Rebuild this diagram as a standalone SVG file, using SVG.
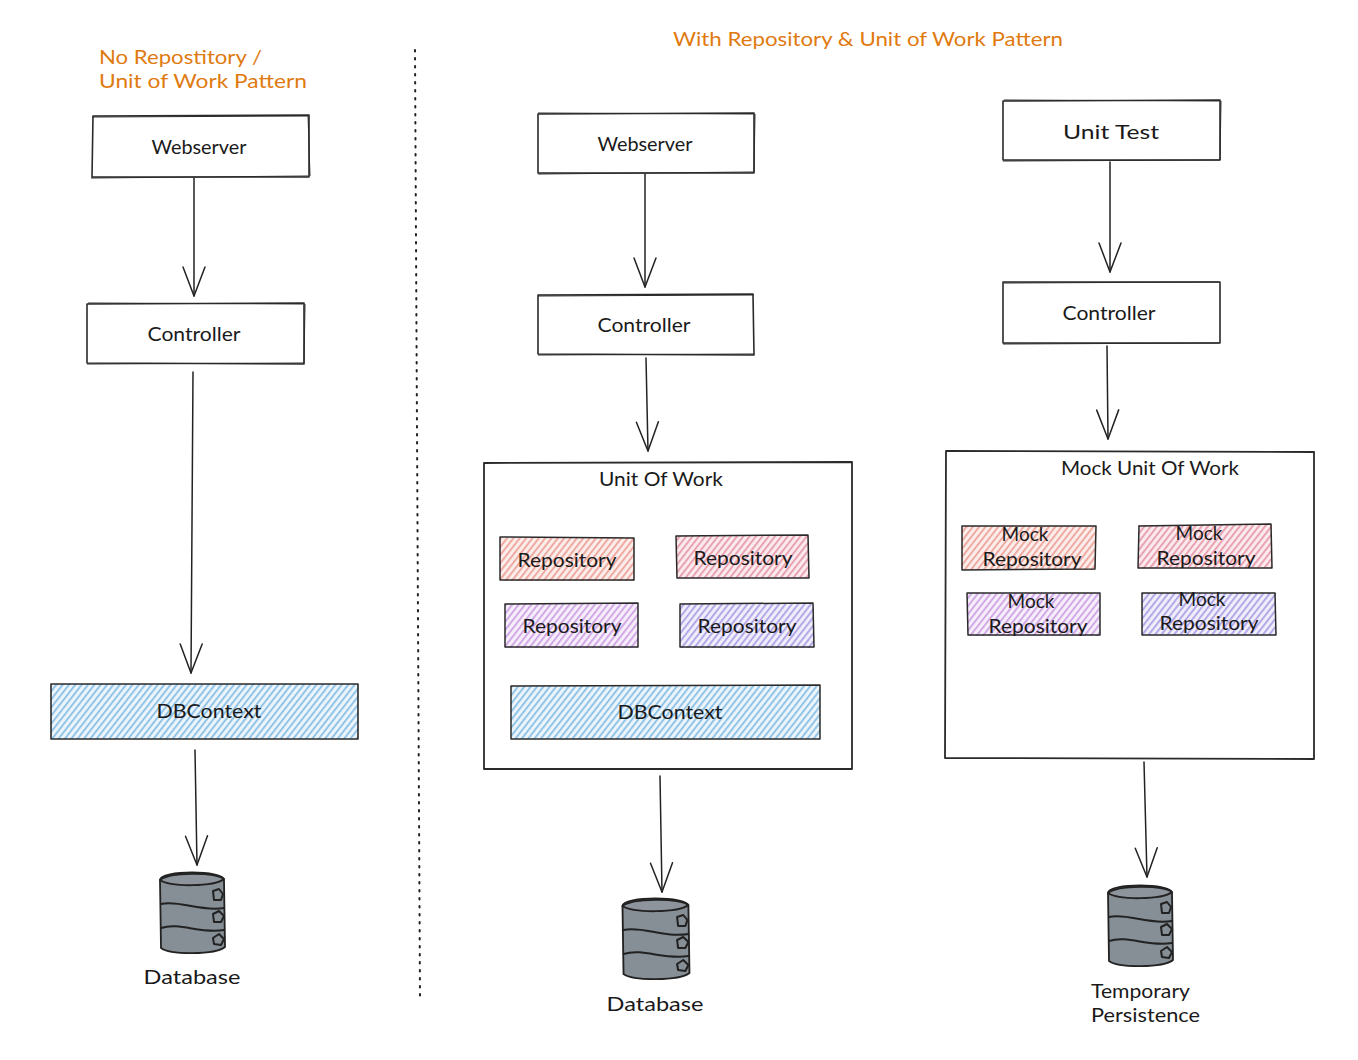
<svg xmlns="http://www.w3.org/2000/svg" xmlns:xlink="http://www.w3.org/1999/xlink" width="1358" height="1060" viewBox="0 0 1358 1060">
<style>
text{font-family:"Lato","Open Sans","Liberation Sans",sans-serif;font-size:19px;fill:#1a1a1a;text-anchor:middle}
text.o{fill:#e07a10;text-anchor:start}
text.s{text-anchor:start}
.b{fill:#fff;stroke:#2a2a2a;stroke-width:1.6;stroke-linejoin:round}
.e{fill:none;stroke:#2a2a2a;stroke-width:1;stroke-linejoin:round}
.c{fill:none;stroke:#222;stroke-width:1.5;stroke-linecap:round;marker-end:url(#h)}
.d{fill:none;stroke:#222;stroke-width:2;stroke-dasharray:1.5 6.5;stroke-linecap:round}
.red{fill:url(#pr)}.pink{fill:url(#pp)}.pur{fill:url(#pu)}.vio{fill:url(#pv)}.blu{fill:url(#pb)}
.k{stroke:#222;stroke-width:2;stroke-linejoin:round;stroke-linecap:round}
</style>
<defs>
<marker id="h" markerUnits="userSpaceOnUse" markerWidth="60" markerHeight="40" refX="30" refY="20" orient="auto" overflow="visible">
<path d="M1,9 L30,20 L1,31" fill="none" stroke="#222" stroke-width="1.5" stroke-linecap="round" stroke-linejoin="round"/>
</marker>
<pattern id="pr" width="5" height="5" patternUnits="userSpaceOnUse" patternTransform="rotate(-52)"><rect width="5" height="5" fill="#fbeeea"/><rect width="5" height="1.8" fill="#eea39c"/></pattern>
<pattern id="pp" width="5" height="5" patternUnits="userSpaceOnUse" patternTransform="rotate(-52)"><rect width="5" height="5" fill="#fbeaee"/><rect width="5" height="1.8" fill="#e79cac"/></pattern>
<pattern id="pu" width="5" height="5" patternUnits="userSpaceOnUse" patternTransform="rotate(-52)"><rect width="5" height="5" fill="#f6eefb"/><rect width="5" height="1.8" fill="#cfa3e4"/></pattern>
<pattern id="pv" width="5" height="5" patternUnits="userSpaceOnUse" patternTransform="rotate(-52)"><rect width="5" height="5" fill="#f0eefb"/><rect width="5" height="1.8" fill="#afa2e6"/></pattern>
<pattern id="pb" width="5" height="5" patternUnits="userSpaceOnUse" patternTransform="rotate(-52)"><rect width="5" height="5" fill="#ecf5fb"/><rect width="5" height="1.8" fill="#8bc0e6"/></pattern>
<g id="cyl">
<path d="M0,8 C0,-2 64,-2 64,8 L65,75 C55,83 10,83 1,76 Z" fill="#868e96" stroke="#222" stroke-width="1.8" stroke-linejoin="round"/>
<path class="k" fill="#8d949b" d="M0,8 C10,15 54,15 64,7 C54,0 10,0 0,8 Z"/>
<path class="k" fill="none" d="M1,32 C20,28 40,40 64,36 M1,56 C20,50 40,62 64,58"/>
<path class="k" fill="#868e96" stroke-width="1.5" d="M53,19 L59,17 L63,22 L61,28 L54,28 Z M53,42 L59,39 L64,44 L61,50 L54,50 Z M53,66 L59,62 L64,67 L61,73 L54,72 Z"/>
</g>
</defs>
<rect width="1358" height="1060" fill="#fff"/>

<g id="connectors">
<path class="c" d="M194,178 L194,296"/>
<path class="c" d="M193,372 L191,673"/>
<path class="c" d="M195,750 L197,865"/>
<path class="c" d="M645,174 L645,287"/>
<path class="c" d="M646,358 L648,451"/>
<path class="c" d="M660,776 L662,892"/>
<path class="c" d="M1110,162 L1110,272"/>
<path class="c" d="M1107,346 L1108,439"/>
<path class="c" d="M1144,762 L1147,877"/>
</g>
<path id="divider" class="d" d="M415,50 L420,998"/>

<g id="title-left">
<text class="o" x="99" y="64" textLength="163" lengthAdjust="spacingAndGlyphs">No Repostitory /</text>
<text class="o" x="99" y="88" textLength="208" lengthAdjust="spacingAndGlyphs">Unit of Work Pattern</text>
</g>
<g id="title-right"><text class="o" x="673" y="46" textLength="390" lengthAdjust="spacingAndGlyphs">With Repository &amp; Unit of Work Pattern</text></g>

<g id="web-left"><path class="b" d="M93,116 L309,115 L309,177 L92,177 Z"/><path class="e" d="M92,117 L308,116 M308,115 L310,176 M91,178 L308,176"/><text x="199" y="154" textLength="95" lengthAdjust="spacingAndGlyphs">Webserver</text></g>
<g id="ctrl-left"><path class="b" d="M87,304 L304,303 L304,364 L87,363 Z"/><path class="e" d="M88,303 L303,304 M305,304 L304,363 M87,364 L304,363"/><text x="194" y="341" textLength="93" lengthAdjust="spacingAndGlyphs">Controller</text></g>
<g id="db-left"><rect class="blu" x="51" y="684" width="307" height="55"/><path class="e" style="stroke-width:1.6" d="M51,684 L358,684 L358,739 L51,739 Z"/><text x="209" y="718" textLength="105" lengthAdjust="spacingAndGlyphs">DBContext</text></g>
<g id="store-left"><use xlink:href="#cyl" href="#cyl" x="160" y="872"/><text x="192" y="984" textLength="97" lengthAdjust="spacingAndGlyphs">Database</text></g>

<g id="web-mid"><path class="b" d="M538,114 L754,113 L754,173 L538,173 Z"/><path class="e" d="M538,113 L753,114 M755,114 L754,172 M538,174 L754,172"/><text x="645" y="151" textLength="95" lengthAdjust="spacingAndGlyphs">Webserver</text></g>
<g id="ctrl-mid"><path class="b" d="M538,295 L753,294 L754,355 L538,354 Z"/><path class="e" d="M538,296 L754,295 M538,355 L754,354"/><text x="644" y="332" textLength="93" lengthAdjust="spacingAndGlyphs">Controller</text></g>
<g id="uow">
<path class="b" style="stroke-width:1.8" d="M484,463 L852,462 L852,769 L484,769 Z"/>
<text x="661" y="486" textLength="124" lengthAdjust="spacingAndGlyphs">Unit Of Work</text>
</g>
<g id="repo-1"><rect class="red" x="500" y="538" width="134" height="43"/><path class="e" style="stroke-width:1.5" d="M500,537 L634,538 L634,580 L500,580 Z"/><text x="567" y="567" textLength="99" lengthAdjust="spacingAndGlyphs">Repository</text></g>
<g id="repo-2"><rect class="pink" x="676" y="536" width="133" height="42"/><path class="e" style="stroke-width:1.5" d="M676,536 L808,535 L809,578 L677,578 Z"/><text x="743" y="565" textLength="99" lengthAdjust="spacingAndGlyphs">Repository</text></g>
<g id="repo-3"><rect class="pur" x="505" y="604" width="133" height="44"/><path class="e" style="stroke-width:1.5" d="M505,604 L638,603 L638,647 L505,647 Z"/><text x="572" y="633" textLength="99" lengthAdjust="spacingAndGlyphs">Repository</text></g>
<g id="repo-4"><rect class="vio" x="680" y="604" width="134" height="44"/><path class="e" style="stroke-width:1.5" d="M680,604 L813,603 L814,647 L680,647 Z"/><text x="747" y="633" textLength="99" lengthAdjust="spacingAndGlyphs">Repository</text></g>
<g id="db-mid"><rect class="blu" x="511" y="686" width="309" height="53"/><path class="e" style="stroke-width:1.5" d="M511,686 L820,685 L820,739 L511,739 Z"/><text x="670" y="719" textLength="105" lengthAdjust="spacingAndGlyphs">DBContext</text></g>
<g id="store-mid"><use xlink:href="#cyl" href="#cyl" transform="translate(622.5,898) scale(1.03,1)"/><text x="655" y="1011" textLength="97" lengthAdjust="spacingAndGlyphs">Database</text></g>

<g id="unit-test"><path class="b" d="M1003,101 L1220,100 L1220,160 L1003,160 Z"/><path class="e" d="M1004,100 L1219,101 M1221,101 L1220,160 M1003,161 L1220,160"/><text x="1111" y="139" textLength="96" lengthAdjust="spacingAndGlyphs">Unit Test</text></g>
<g id="ctrl-right"><path class="b" d="M1003,282 L1220,282 L1220,343 L1003,343 Z"/><path class="e" d="M1004,283 L1219,282 M1003,344 L1219,343"/><text x="1109" y="320" textLength="93" lengthAdjust="spacingAndGlyphs">Controller</text></g>
<g id="mock-uow">
<path class="b" style="stroke-width:1.8" d="M946,451 L1314,452 L1314,759 L945,758 Z"/>
<text x="1150" y="475" textLength="178" lengthAdjust="spacingAndGlyphs">Mock Unit Of Work</text>
</g>
<g id="mock-1"><rect class="red" x="962" y="526" width="134" height="44"/><path class="e" style="stroke-width:1.5" d="M962,526 L1096,526 L1095,569 L962,570 Z"/><text x="1025" y="541">Mock</text><text x="1032" y="566" textLength="99" lengthAdjust="spacingAndGlyphs">Repository</text></g>
<g id="mock-2"><rect class="pink" x="1138" y="525" width="134" height="43"/><path class="e" style="stroke-width:1.5" d="M1139,526 L1271,524 L1272,568 L1138,568 Z"/><text x="1199" y="540">Mock</text><text x="1206" y="565" textLength="99" lengthAdjust="spacingAndGlyphs">Repository</text></g>
<g id="mock-3"><rect class="pur" x="967" y="593" width="133" height="43"/><path class="e" style="stroke-width:1.5" d="M967,593 L1100,593 L1100,635 L968,635 Z"/><text x="1031" y="608">Mock</text><text x="1038" y="633" textLength="99" lengthAdjust="spacingAndGlyphs">Repository</text></g>
<g id="mock-4"><rect class="vio" x="1142" y="593" width="134" height="42"/><path class="e" style="stroke-width:1.5" d="M1142,593 L1275,593 L1276,635 L1142,635 Z"/><text x="1202" y="606">Mock</text><text x="1209" y="630" textLength="99" lengthAdjust="spacingAndGlyphs">Repository</text></g>
<g id="store-right"><use xlink:href="#cyl" href="#cyl" x="1108" y="885"/><text class="s" x="1091" y="998" textLength="99" lengthAdjust="spacingAndGlyphs">Temporary</text><text class="s" x="1091" y="1022" textLength="109" lengthAdjust="spacingAndGlyphs">Persistence</text></g>
</svg>
